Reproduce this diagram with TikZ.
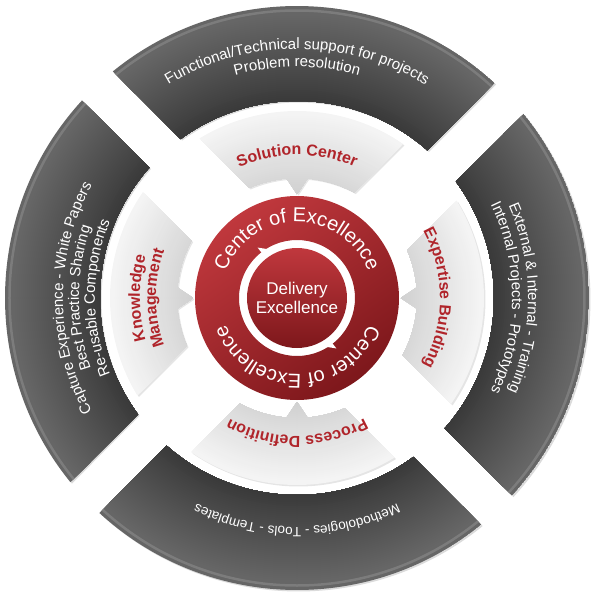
\documentclass[tikz,border=0pt]{standalone}
\usepackage{fontspec}
\setmainfont{Liberation Sans}
\usetikzlibrary{decorations.text}

\definecolor{segdark}{HTML}{3A3A3A}
\definecolor{segmid}{HTML}{666666}
\definecolor{segrim}{HTML}{7C7C7C}
\definecolor{tablight}{HTML}{F4F4F4}
\definecolor{tabdark}{HTML}{D0D0D0}
\definecolor{coelight}{HTML}{C0383D}
\definecolor{coedark}{HTML}{7D171B}
\definecolor{labred}{HTML}{B0242A}

\newcommand\ringfont{\fontsize{15}{17}\selectfont\color{white}}
\newcommand\smallringfont{\fontsize{13.5}{15}\selectfont\color{white}}
\newcommand\tabfont{\fontsize{16}{18}\selectfont\bfseries\color{labred}}
\newcommand\coefont{\fontsize{20}{22}\selectfont\color{white}}

% the four dark segments and the four pointer tabs
\newcommand\darksegs{\foreach \a in {0,90,180,270}{
  (47.4+\a:292) arc[start angle=47.4+\a, end angle=129.1+\a, radius=292pt]
  -- (126.2+\a:197) arc[start angle=126.2+\a, end angle=48.5+\a, radius=197pt] -- cycle}}
\newcommand\tabsegs{\foreach \a in {0,90,180,270}{
  (55.5+\a:187) arc[start angle=55.5+\a, end angle=121.4+\a, radius=187pt]
  -- (113.5+\a:120) arc[start angle=113.5+\a, end angle=95+\a, radius=120pt]
  -- (90+\a:104) -- (85+\a:120)
  arc[start angle=85+\a, end angle=61.5+\a, radius=120pt] -- cycle}}

\tikzset{
  curved/.style={decorate, decoration={text along path, text align=center, text={#1}}},
  core/.style={align=center, text=white, font=\fontsize{17}{19}\selectfont},
  shadow/.style={fill=black!#1, shift={(1.5,-1.5)}},
}

\begin{document}
\begin{tikzpicture}[x=1pt, y=1pt]
  \useasboundingbox (-297,-300) rectangle (297,298);

  % outer dark ring
  \fill[shadow=14] \darksegs;
  \begin{scope}
    \clip \darksegs;
    \foreach \r in {292,290,...,196}{
      \pgfmathsetmacro\mix{min(100,max(0,(\r-197)*1.15))}
      \fill[segmid!\mix!segdark] (0,0) circle[radius=\r*1pt];
    }
    \draw[segrim, line width=2.5pt] (0,0) circle[radius=287.5pt];
  \end{scope}

  % light tabs with pointers
  \fill[shadow=10] \tabsegs;
  \begin{scope}
    \clip \tabsegs;
    \foreach \r in {188,186,...,102}{
      \pgfmathsetmacro\mix{min(100,max(0,(\r-104)*1.25))}
      \fill[tablight!\mix!tabdark] (0,0) circle[radius=\r*1pt];
    }
  \end{scope}

  % red ring, arrow teeth and core
  \shade[top color=coelight, bottom color=coedark, shading angle=35, even odd rule]
    (0,0) circle[radius=102pt] (0,0) circle[radius=58pt];
  \foreach \a in {128,-52}
    \fill[white] (\a-7:57) -- (\a:64) -- (\a:56) -- cycle;
  \shade[top color=coelight, bottom color=coedark]
    (0,0) circle[radius=50pt];
  \node[core] (core) at (0,0) {Delivery\\Excellence};

  \path[curved={|\coefont|Center of Excellence}]
    (175:76) arc[start angle=175, end angle=5, radius=76pt];
  \path[curved={|\coefont|Center of Excellence}]
    (-5:76) arc[start angle=-5, end angle=-175, radius=76pt];

  % tab labels
  \path[curved={|\tabfont|Solution Center}]
    (150:143) arc[start angle=150, end angle=30, radius=143pt];
  \path[curved={|\tabfont|Expertise Building}]
    (60:143) arc[start angle=60, end angle=-60, radius=143pt];
  \path[curved={|\tabfont|Process Definition}]
    (-30:138) arc[start angle=-30, end angle=-150, radius=138pt];
  \path[curved={|\tabfont|Knowledge}]
    (240:157) arc[start angle=240, end angle=120, radius=157pt];
  \path[curved={|\tabfont|Management}]
    (240:141) arc[start angle=240, end angle=120, radius=141pt];

  % ring labels
  \path[curved={|\ringfont|Functional/Technical support for projects}]
    (170:249) arc[start angle=170, end angle=10, radius=249pt];
  \path[curved={|\ringfont|Problem resolution}]
    (150:231) arc[start angle=150, end angle=30, radius=231pt];
  \path[curved={|\ringfont|External {\&} Internal - Training}]
    (70:231) arc[start angle=70, end angle=-70, radius=231pt];
  \path[curved={|\ringfont|Internal Projects - Prototypes}]
    (70:215) arc[start angle=70, end angle=-70, radius=215pt];
  \path[curved={|\smallringfont|Methodologies - Tools - Templates}]
    (-20:229) arc[start angle=-20, end angle=-160, radius=229pt];
  \path[curved={|\ringfont|Capture Experience - White Papers}]
    (260:234) arc[start angle=260, end angle=100, radius=234pt];
  \path[curved={|\ringfont|Best Practice Sharing}]
    (240:218) arc[start angle=240, end angle=120, radius=218pt];
  \path[curved={|\ringfont|Re-usable Components}]
    (240:202) arc[start angle=240, end angle=120, radius=202pt];
\end{tikzpicture}
\end{document}
